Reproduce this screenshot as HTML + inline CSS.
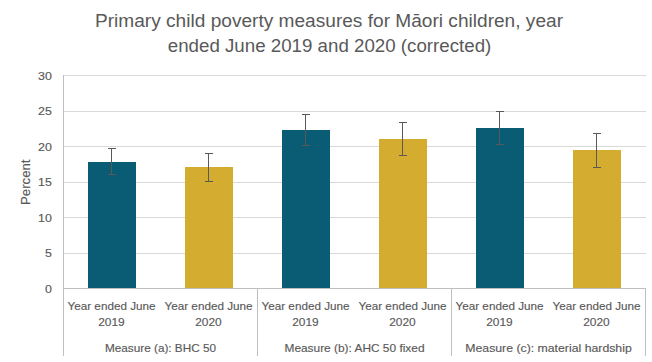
<!DOCTYPE html>
<html><head><meta charset="utf-8">
<style>
html,body{margin:0;padding:0;background:#fff;width:652px;height:362px;overflow:hidden}
svg{display:block}
text{font-family:"Liberation Sans",sans-serif;fill:#595959;stroke:#595959;stroke-width:0.15}
</style></head>
<body>
<svg width="652" height="362" viewBox="0 0 652 362">
<rect x="0" y="0" width="652" height="362" fill="#fff"/>
<!-- title -->
<text x="95" y="27" font-size="17.5" style="stroke:none" textLength="468" lengthAdjust="spacingAndGlyphs">Primary child poverty measures for Māori children, year</text>
<text x="167.8" y="52" font-size="17.5" style="stroke:none" textLength="323.5" lengthAdjust="spacingAndGlyphs">ended June 2019 and 2020 (corrected)</text>
<!-- gridlines -->
<g stroke="#d9d9d9" stroke-width="1" shape-rendering="crispEdges">
<line x1="63" y1="75.5" x2="646" y2="75.5"/>
<line x1="63" y1="111.5" x2="646" y2="111.5"/>
<line x1="63" y1="146.5" x2="646" y2="146.5"/>
<line x1="63" y1="182.5" x2="646" y2="182.5"/>
<line x1="63" y1="217.5" x2="646" y2="217.5"/>
<line x1="63" y1="253.5" x2="646" y2="253.5"/>
</g>
<!-- bars -->
<g shape-rendering="crispEdges">
<rect x="88" y="162" width="48" height="126" fill="#0a5b74"/>
<rect x="185" y="167" width="48" height="121" fill="#d4ac30"/>
<rect x="282" y="130" width="48" height="158" fill="#0a5b74"/>
<rect x="379" y="139" width="48" height="149" fill="#d4ac30"/>
<rect x="476" y="128" width="48" height="160" fill="#0a5b74"/>
<rect x="573" y="150" width="48" height="138" fill="#d4ac30"/>
</g>
<!-- axes -->
<g stroke="#bfbfbf" stroke-width="1" shape-rendering="crispEdges">
<line x1="63.5" y1="75" x2="63.5" y2="356"/>
<line x1="63" y1="288.5" x2="646" y2="288.5"/>
<line x1="257.5" y1="288" x2="257.5" y2="356"/>
<line x1="451.5" y1="288" x2="451.5" y2="356"/>
<line x1="645.5" y1="288" x2="645.5" y2="356"/>
</g>
<!-- error bars -->
<g stroke="#595959" stroke-width="1" shape-rendering="crispEdges" fill="none">
<path d="M111.5 148V175M108 148.5H116M108 174.5H116"/>
<path d="M208.5 153V182M205 153.5H213M205 181.5H213"/>
<path d="M305.5 114V146M302 114.5H310M302 145.5H310"/>
<path d="M402.5 122V156M399 122.5H407M399 155.5H407"/>
<path d="M499.5 111V145M496 111.5H504M496 144.5H504"/>
<path d="M596.5 133V168M593 133.5H601M593 167.5H601"/>
</g>
<!-- y labels -->
<g font-size="11.5" text-anchor="end">
<text x="51.8" y="80" textLength="13.8" lengthAdjust="spacingAndGlyphs">30</text>
<text x="51.8" y="115" textLength="13.8" lengthAdjust="spacingAndGlyphs">25</text>
<text x="51.8" y="151" textLength="13.8" lengthAdjust="spacingAndGlyphs">20</text>
<text x="51.8" y="185.5" textLength="13.8" lengthAdjust="spacingAndGlyphs">15</text>
<text x="51.8" y="222" textLength="13.8" lengthAdjust="spacingAndGlyphs">10</text>
<text x="51.8" y="257" textLength="6.9" lengthAdjust="spacingAndGlyphs">5</text>
<text x="51.8" y="293" textLength="6.9" lengthAdjust="spacingAndGlyphs">0</text>
</g>
<text transform="translate(29.5,205) rotate(-90)" font-size="12" textLength="45.5" lengthAdjust="spacingAndGlyphs">Percent</text>
<!-- category labels -->
<g font-size="11.5" text-anchor="middle">
<text x="111.5" y="310" textLength="88" lengthAdjust="spacingAndGlyphs">Year ended June</text>
<text x="111.5" y="326" textLength="26.5" lengthAdjust="spacingAndGlyphs">2019</text>
<text x="208.5" y="310" textLength="88" lengthAdjust="spacingAndGlyphs">Year ended June</text>
<text x="208.5" y="326" textLength="26.5" lengthAdjust="spacingAndGlyphs">2020</text>
<text x="305.5" y="310" textLength="88" lengthAdjust="spacingAndGlyphs">Year ended June</text>
<text x="305.5" y="326" textLength="26.5" lengthAdjust="spacingAndGlyphs">2019</text>
<text x="402.5" y="310" textLength="88" lengthAdjust="spacingAndGlyphs">Year ended June</text>
<text x="402.5" y="326" textLength="26.5" lengthAdjust="spacingAndGlyphs">2020</text>
<text x="499.5" y="310" textLength="88" lengthAdjust="spacingAndGlyphs">Year ended June</text>
<text x="499.5" y="326" textLength="26.5" lengthAdjust="spacingAndGlyphs">2019</text>
<text x="596.5" y="310" textLength="88" lengthAdjust="spacingAndGlyphs">Year ended June</text>
<text x="596.5" y="326" textLength="26.5" lengthAdjust="spacingAndGlyphs">2020</text>
<text x="160.5" y="352" textLength="111" lengthAdjust="spacingAndGlyphs">Measure (a): BHC 50</text>
<text x="354.5" y="352" textLength="140" lengthAdjust="spacingAndGlyphs">Measure (b): AHC 50 fixed</text>
<text x="548.5" y="352" textLength="166.5" lengthAdjust="spacingAndGlyphs">Measure (c): material hardship</text>
</g>
</svg>
</body></html>
